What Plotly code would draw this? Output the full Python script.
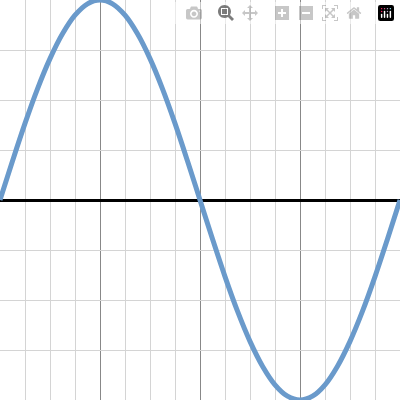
import plotly.graph_objects as go

x_vals = [i * 0.125 for i in range(33)]
y_vals = [0, 0.195, 0.383, 0.556, 0.707, 0.831, 0.924, 0.981, 1.0, 0.981, 0.924, 0.831, 0.707, 0.556, 0.383, 0.195, 0,
          -0.195, -0.383, -0.556, -0.707, -0.831, -0.924, -0.981, -1.0, -0.981, -0.924, -0.831, -0.707, -0.556, -0.383, -0.195, 0]

fig = go.Figure(go.Scatter(x=x_vals, y=y_vals, mode="lines", line=dict(color="#6a9acb", width=5, shape="spline"),
                           cliponaxis=True))
fig.update_layout(width=400, height=400, margin=dict(l=0, r=0, t=0, b=0, pad=0), showlegend=False,
                  plot_bgcolor="white", paper_bgcolor="white")
fig.update_xaxes(range=[0, 4], dtick=1, showgrid=True, gridcolor="#888", gridwidth=1,
                 minor=dict(dtick=0.25, showgrid=True, gridcolor="#d4d4d4"),
                 zeroline=False, showticklabels=False, ticks="")
fig.update_yaxes(range=[-1, 1], dtick=0.25, showgrid=True, gridcolor="#d4d4d4", gridwidth=1,
                 zeroline=True, zerolinecolor="black", zerolinewidth=3, showticklabels=False, ticks="")
fig.write_html("out.html", post_script="document.body.style.margin='0';document.body.style.overflow='hidden';")
